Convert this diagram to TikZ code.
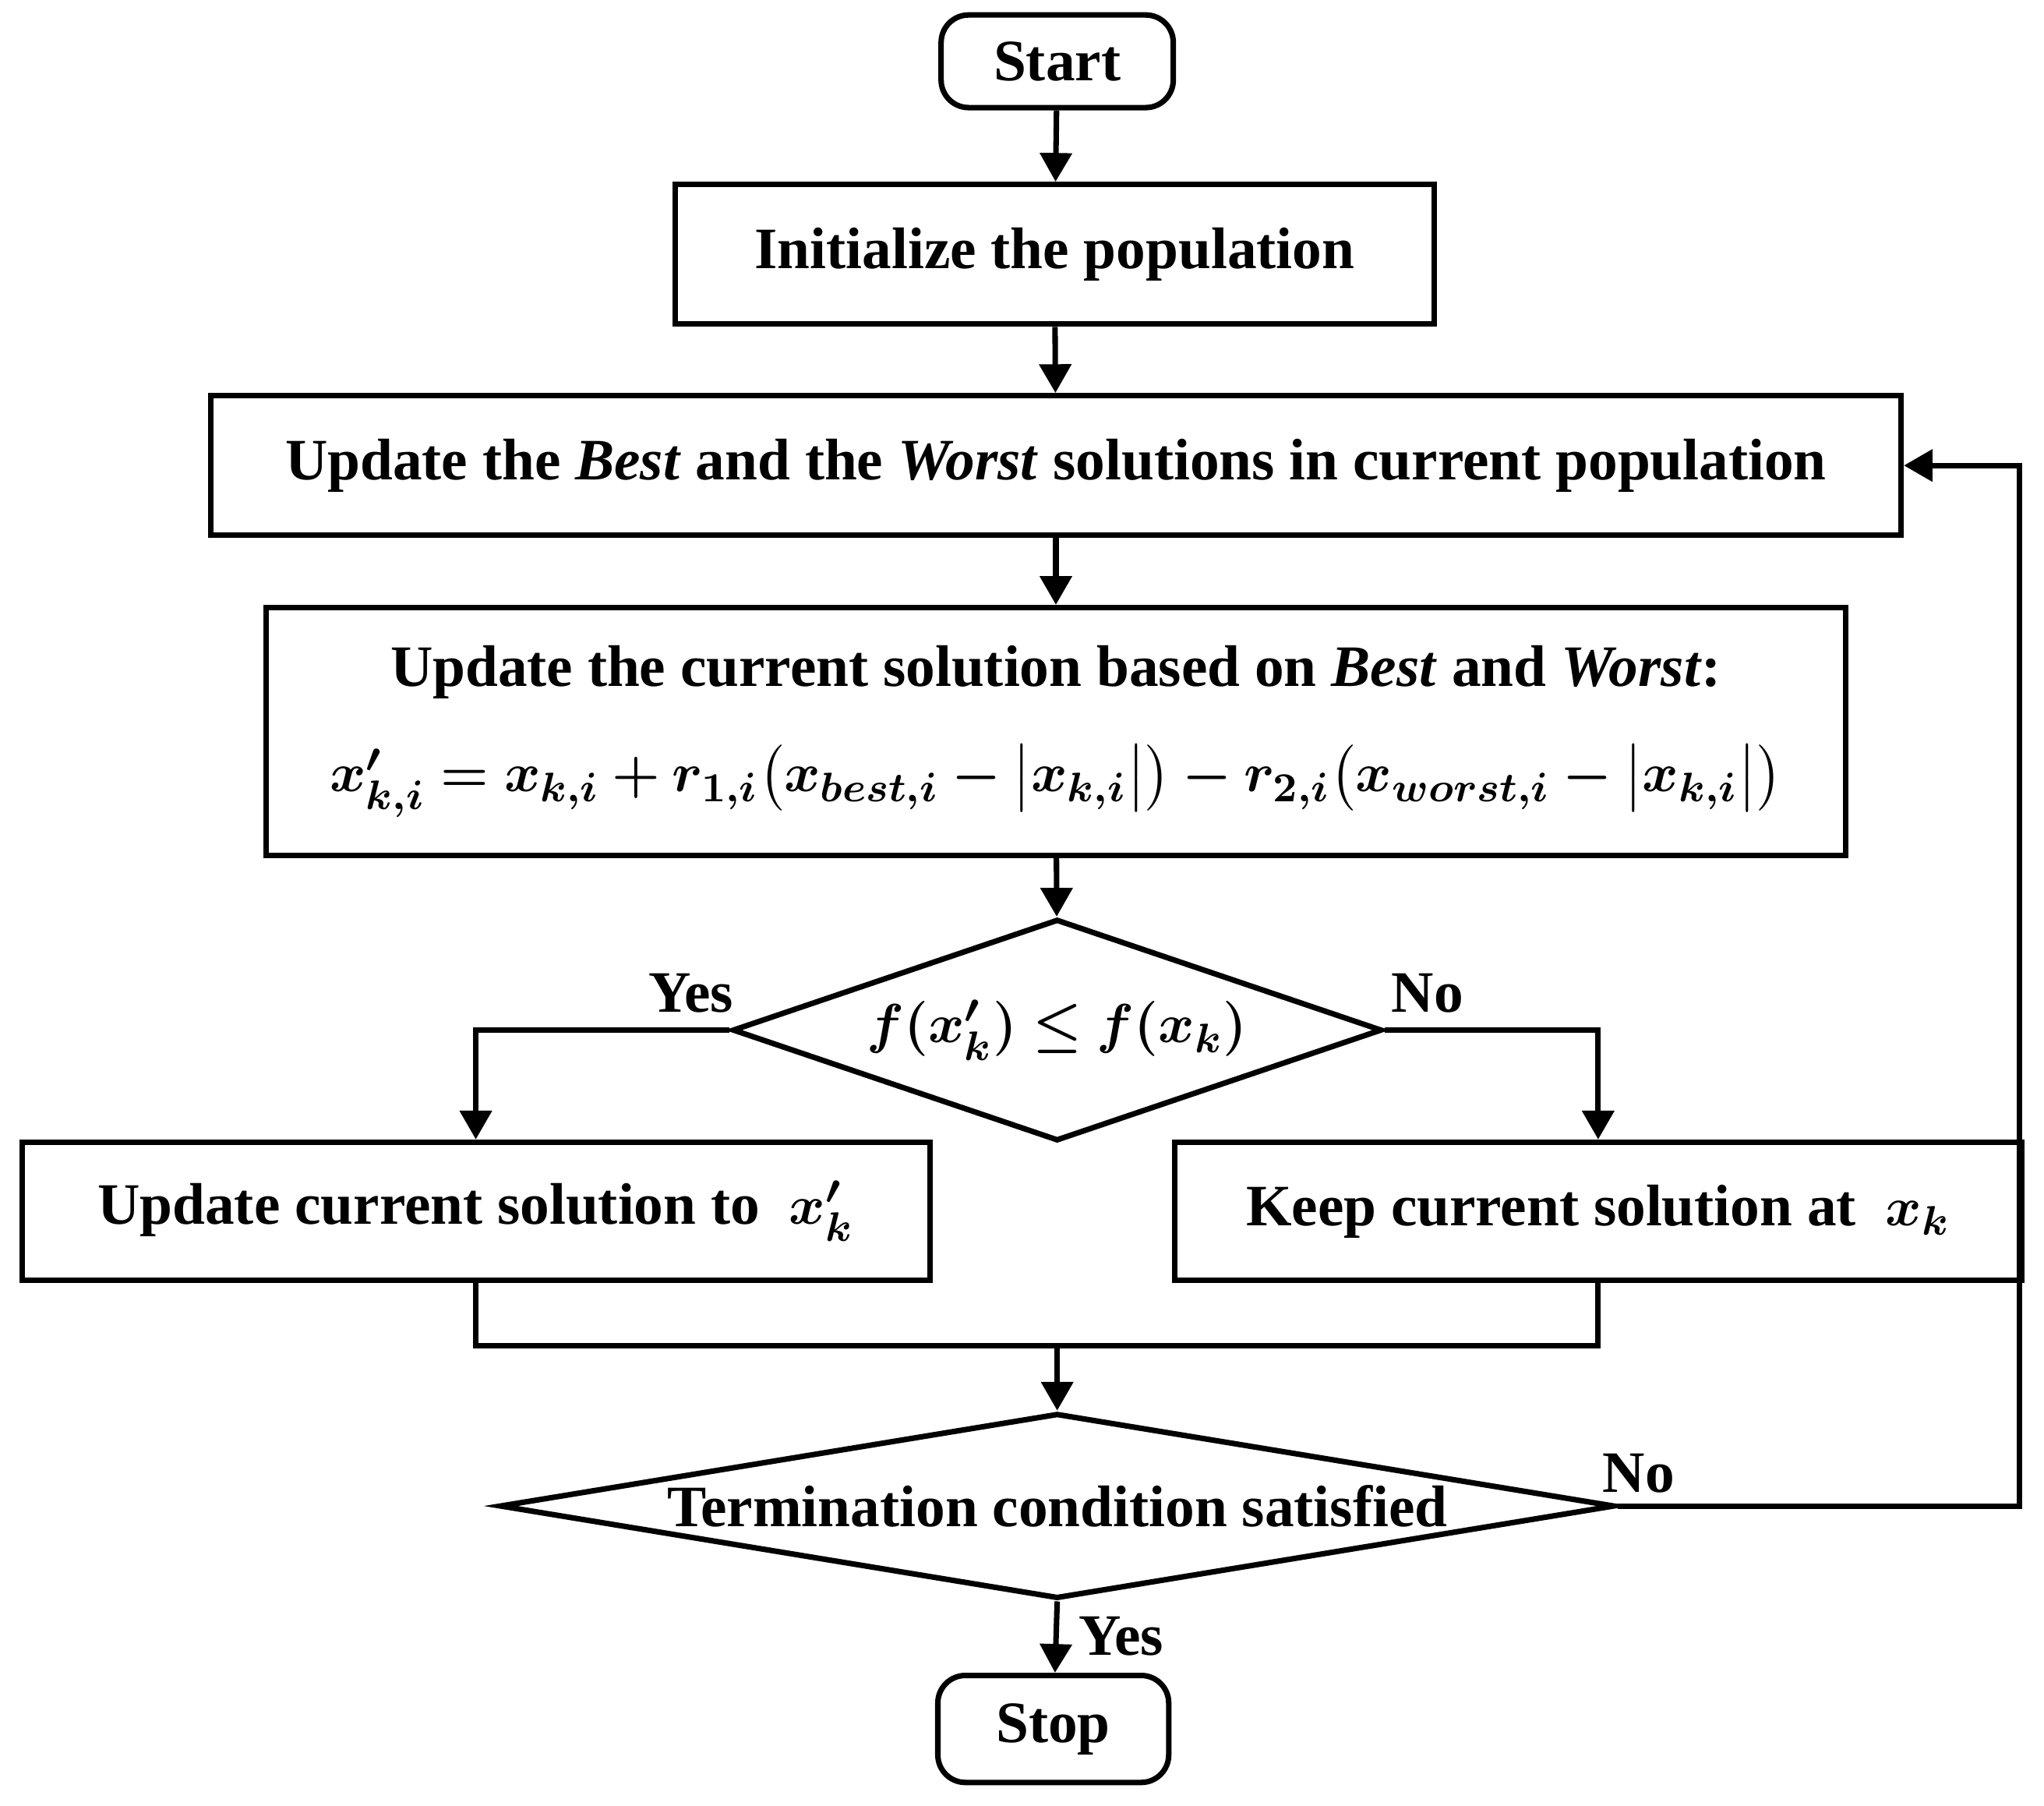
\documentclass[tikz,border=0pt]{standalone}
\usepackage{fontspec}
\setmainfont{Liberation Serif}
\usepackage{amsmath,bm}
\usetikzlibrary{shapes.geometric,arrows.meta}
\begin{document}
\begin{tikzpicture}[x=0.01cm,y=-0.01cm,
  every node/.style={font=\fontsize{12.8}{15}\selectfont\bfseries},
  box/.style={draw,line width=1.2pt,inner sep=0},
  rbox/.style={box,rounded corners=6pt},
  dia/.style={draw,line width=1.2pt,diamond,inner sep=0},
  arr/.style={line width=1.2pt,-{Triangle[length=0.22cm,width=0.24cm]}},
  ln/.style={line width=1.2pt}]
\useasboundingbox (0,0) rectangle (1568,1385);
\node[rbox,minimum width=1.78cm,minimum height=0.71cm] (start) at (811,47) {Start};
\node[box,minimum width=5.82cm,minimum height=1.07cm] (init) at (809,195) {Initialize the population};
\node[box,minimum width=12.96cm,minimum height=1.07cm] (ubw) at (810,357) {Update the \textit{Best} and the \textit{Worst} solutions in current population};
\node[box,minimum width=12.11cm,minimum height=1.9cm,align=center] (ucs) at (810,561) {Update the current solution based on \textit{Best} and \textit{Worst}:\\[8pt]
$\bm{x'_{k,i}=x_{k,i}+r_{1,i}\bigl(x_{best,i}-\bigl\lvert x_{k,i}\bigr\rvert\bigr)-r_{2,i}\bigl(x_{worst,i}-\bigl\lvert x_{k,i}\bigr\rvert\bigr)}$};
\node[dia,minimum width=4.98cm,minimum height=1.7cm,label=center:{$\bm{f(x'_k)\le f(x_k)}$}] (d1) at (811,790) {};
\node[box,minimum width=6.96cm,minimum height=1.06cm] (left) at (365,929) {Update current solution to \ $\bm{x'_k}$};
\node[box,minimum width=6.49cm,minimum height=1.06cm] (right) at (1226,929) {Keep current solution at \ $\bm{x_k}$};
\node[dia,minimum width=8.55cm,minimum height=1.42cm,label=center:{Termination condition satisfied}] (d2) at (811,1155) {};
\node[rbox,minimum width=1.77cm,minimum height=0.82cm] (stop) at (808,1326) {Stop};
\coordinate (m) at (811,1032);
\coordinate (fb) at (1549,1155);
\draw[arr] (start) -- (init);
\draw[arr] (init) -- (ubw);
\draw[arr] (ubw) -- (ucs);
\draw[arr] (ucs) -- (d1);
\draw[arr] (d1.west) -| (left.north);
\draw[arr] (d1.east) -| (right.north);
\draw[ln] (left.south) |- (m) -| (right.south);
\draw[arr] (m) -- (d2.north);
\draw[arr] (d2.south) -- (stop);
\draw[arr] (d2.east) -- (fb) |- (ubw.east);
\node at (530,762) {Yes};
\node at (1095,762) {No};
\node at (1257,1130) {No};
\node at (860,1255) {Yes};
\end{tikzpicture}
\end{document}
